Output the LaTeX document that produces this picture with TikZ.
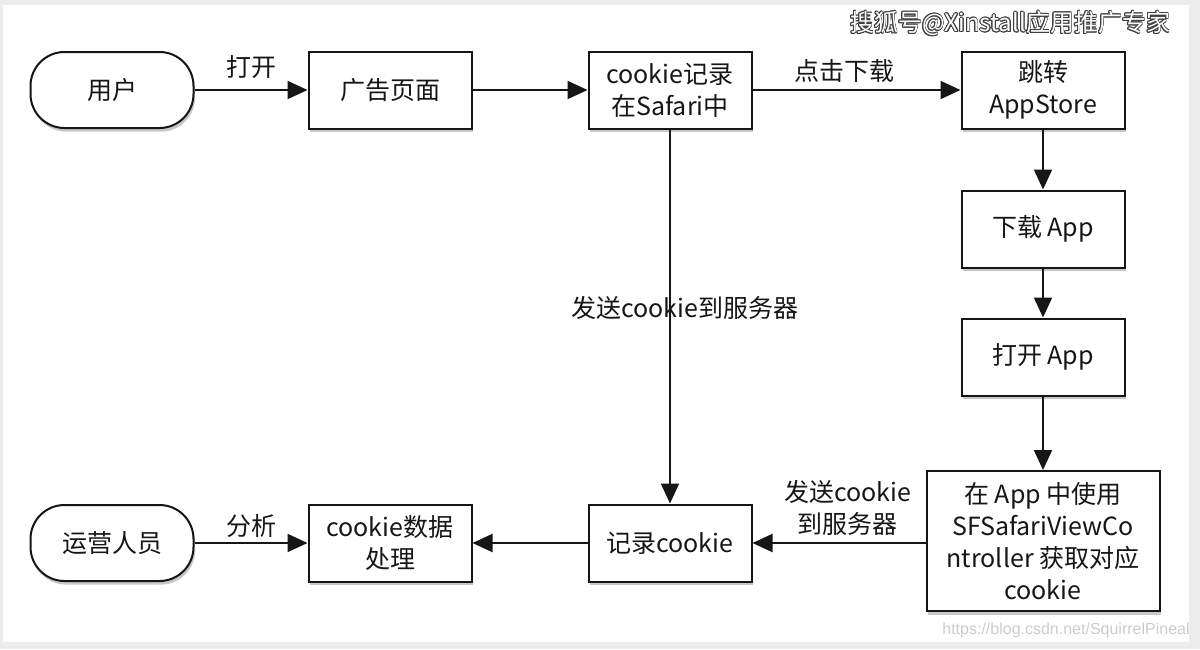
\documentclass[tikz,border=0pt]{standalone}
\usepackage{fontspec}
\setmainfont{Noto Sans CJK SC}
\newfontfamily\wmfont{Liberation Sans}
\usepackage{contour}
\contourlength{0.45pt}
\usetikzlibrary{arrows.meta,positioning,shadows}
\definecolor{FrameGray}{HTML}{EDEDED}
\definecolor{InkGray}{HTML}{161616}
\tikzset{
  flow/base/.style={draw=InkGray, line width=1pt, fill=white, align=center, text=InkGray,
    font=\fontsize{12.5}{16}\selectfont,
    drop shadow={shadow xshift=0.8pt, shadow yshift=-1.8pt, fill=black, opacity=0.22}},
  flow/terminal/.style={flow/base, rounded corners=17pt, minimum width=81.5pt, minimum height=38pt},
  flow/process/.style={flow/base, minimum width=81.5pt, minimum height=38.5pt},
  flow/bigproc/.style={flow/base, minimum width=116.5pt, minimum height=70pt, inner sep=2pt},
  flow/arr/.style={draw=InkGray, line width=1pt, -{Triangle[length=10pt,width=9pt]}},
  flow/lbl/.style={font=\fontsize{12.5}{16}\selectfont, text=InkGray, align=center, inner sep=1pt},
  flow/mark/.style={font=\fontsize{12}{14}\selectfont, text=white, inner sep=0pt},
  flow/url/.style={font=\wmfont\fontsize{8}{10}\selectfont, text=black!20, inner sep=0pt}
}

\begin{document}
\begin{tikzpicture}[x=0.5pt, y=-0.5pt]
  % frame
  \fill[FrameGray] (0,0) rectangle (1200,649);
  \fill[white] (3,5) rectangle (1189,642);
  \useasboundingbox (0,0) rectangle (1200,649);

  % top row
  \node[flow/terminal] (user) at (112,90) {用户};
  \node[flow/process] (adpage) at (390,90) {广告页面};
  \node[flow/process] (safari) at (670,90) {cookie记录\\在Safari中};
  \node[flow/process] (appstore) at (1043,90) {跳转\\AppStore};

  % right column
  \node[flow/process] (download) at (1043,229) {下载 App};
  \node[flow/process] (openapp) at (1043,357) {打开 App};
  \node[flow/bigproc] (sfview) at (1043,541) {在 App 中使用\\SFSafariViewCo\\ntroller 获取对应\\cookie};

  % bottom row
  \node[flow/process] (record) at (670,543) {记录cookie};
  \node[flow/process] (dataproc) at (390,543) {cookie数据\\处理};
  \node[flow/terminal] (staff) at (112,543) {运营人员};

  \draw[flow/arr] (user) -- node[flow/lbl, above=4pt] {打开} (adpage);
  \draw[flow/arr] (adpage) -- (safari);
  \draw[flow/arr] (safari) -- node[flow/lbl, pos=0.44, above=2pt] {点击下载} (appstore);
  \draw[flow/arr] (appstore) -- (download);
  \draw[flow/arr] (download) -- (openapp);
  \draw[flow/arr] (openapp) -- (sfview);
  \draw[flow/arr] (safari) -- node[flow/lbl, xshift=7.5pt, yshift=4.5pt] {发送cookie到服务器} (record);
  \draw[flow/arr] (sfview.west |- record) -- node[flow/lbl, pos=0.45, above=2pt] {发送cookie\\到服务器} (record);
  \draw[flow/arr] (record) -- (dataproc);
  \draw[flow/arr] (staff) -- node[flow/lbl, above=1pt] {分析} (dataproc);

  % watermarks
  \node[flow/mark] (sohu) at (1010,24) {\contour{black!75}{搜狐号@Xinstall应用推广专家}};
  \node[flow/url] (csdn) at (1066,630) {https://blog.csdn.net/SquirrelPineal};
\end{tikzpicture}
\end{document}
